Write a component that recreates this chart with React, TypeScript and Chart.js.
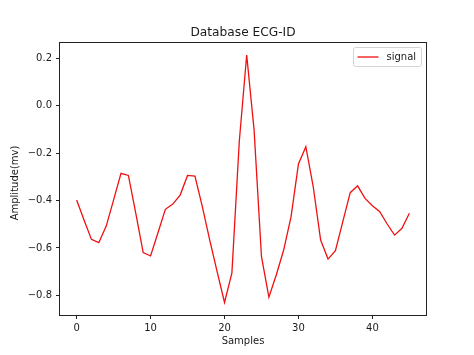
import React, { useEffect, useRef } from "react";
import { Chart, registerables } from "chart.js";

Chart.register(...registerables);

const chartTitle = "Database ECG-ID";
const xAxisLabel = "Samples";
const yAxisLabel = "Amplitude(mv)";
const seriesName = "signal";

const samples = [
  0, 1, 2, 3, 4, 5, 6, 7, 8, 9, 10, 11, 12, 13, 14, 15, 16, 17, 18, 19, 20, 21, 22,
  23, 24, 25, 26, 27, 28, 29, 30, 31, 32, 33, 34, 35, 36, 37, 38, 39, 40, 41, 42, 43,
  44, 45,
];

const amplitude = [
  -0.398, -0.482, -0.564, -0.578, -0.508, -0.397, -0.285, -0.294, -0.454, -0.62,
  -0.634, -0.536, -0.437, -0.415, -0.377, -0.294, -0.297, -0.426, -0.567, -0.7,
  -0.83, -0.705, -0.15, 0.214, -0.103, -0.637, -0.808, -0.714, -0.609, -0.468,
  -0.246, -0.173, -0.342, -0.567, -0.647, -0.612, -0.489, -0.367, -0.338, -0.391,
  -0.422, -0.447, -0.499, -0.546, -0.517, -0.454,
];

const xTicks = [0, 10, 20, 30, 40];
const xTickLabels = ["0", "10", "20", "30", "40"];
const yTicks = [-0.8, -0.6, -0.4, -0.2, 0, 0.2];
const yTickLabels = ["\u22120.8", "\u22120.6", "\u22120.4", "\u22120.2", "0.0", "0.2"];

const FONT = "'DejaVu Sans', sans-serif";
const LINE_COLOR = "#f01010";
const TEXT_COLOR = "#1a1a1a";

function labelFor(values: number[], labels: string[], v: number): string {
  let best = 0;
  for (let i = 0; i < values.length; i++) {
    if (Math.abs(values[i] - v) < Math.abs(values[best] - v)) best = i;
  }
  return labels[best];
}

const decorPlugin = {
  id: "decor",
  afterDraw(chart: any) {
    const { ctx, chartArea } = chart;
    const { left, right, top, bottom } = chartArea;
    const cx = (left + right) / 2;
    const cy = (top + bottom) / 2;
    ctx.save();

    // frame
    ctx.strokeStyle = "#222";
    ctx.lineWidth = 1;
    ctx.strokeRect(Math.round(left) - 0.5, Math.round(top) - 0.5, Math.round(right - left) + 1, Math.round(bottom - top) + 1);

    // title
    ctx.fillStyle = TEXT_COLOR;
    ctx.textAlign = "center";
    ctx.textBaseline = "middle";
    ctx.font = `12.2px ${FONT}`;
    ctx.fillText(chartTitle, cx, 32.5);

    // axis labels
    ctx.font = `10px ${FONT}`;
    ctx.fillText(xAxisLabel, cx, 341.5);
    ctx.save();
    ctx.translate(15, cy + 4);
    ctx.rotate(-Math.PI / 2);
    ctx.fillText(yAxisLabel, 0, 0);
    ctx.restore();

    // legend
    const lx = right - 72.5;
    const ly = top + 4.5;
    const lw = 68;
    const lh = 19;
    ctx.beginPath();
    if (ctx.roundRect) ctx.roundRect(lx, ly, lw, lh, 2);
    else ctx.rect(lx, ly, lw, lh);
    ctx.fillStyle = "rgba(255,255,255,0.8)";
    ctx.fill();
    ctx.strokeStyle = "#d4d4d4";
    ctx.lineWidth = 1;
    ctx.stroke();

    ctx.beginPath();
    ctx.moveTo(lx + 4, ly + 9.5);
    ctx.lineTo(lx + 25, ly + 9.5);
    ctx.strokeStyle = LINE_COLOR;
    ctx.lineWidth = 1.3;
    ctx.stroke();

    ctx.fillStyle = TEXT_COLOR;
    ctx.textAlign = "left";
    ctx.textBaseline = "middle";
    ctx.font = `10px ${FONT}`;
    ctx.fillText(seriesName, lx + 33, ly + 9.5);

    ctx.restore();
  },
};

export default function App() {
  const canvasRef = useRef<HTMLCanvasElement | null>(null);

  useEffect(() => {
    const canvas = canvasRef.current;
    if (!canvas) return;
    const chart = new Chart(canvas, {
      type: "line",
      data: {
        datasets: [
          {
            label: seriesName,
            data: samples.map((s, i) => ({ x: s, y: amplitude[i] })),
            borderColor: LINE_COLOR,
            backgroundColor: LINE_COLOR,
            borderWidth: 1.3,
            pointRadius: 0,
            tension: 0,
            fill: false,
          },
        ],
      },
      options: {
        animation: false,
        responsive: false,
        devicePixelRatio: 1,
        layout: { padding: { left: 0, right: 48, top: 43, bottom: 0 } },
        plugins: {
          legend: { display: false },
          title: { display: false },
          tooltip: { enabled: false },
        },
        scales: {
          x: {
            type: "linear",
            bounds: "data",
            min: -2.25,
            max: 47.25,
            afterBuildTicks: (scale: any) => {
              scale.ticks = xTicks.map((v) => ({ value: v }));
            },
            afterFit: (scale: any) => {
              scale.height = 40;
            },
            ticks: {
              autoSkip: false,
              maxRotation: 0,
              padding: 3,
              color: TEXT_COLOR,
              font: { family: FONT, size: 10 },
              callback: (v: any) => labelFor(xTicks, xTickLabels, Number(v)),
            },
            grid: {
              display: true,
              drawOnChartArea: false,
              drawTicks: true,
              tickLength: 4,
              tickColor: "#222",
              tickWidth: 1,
            },
            border: { display: false },
          },
          y: {
            type: "linear",
            bounds: "data",
            min: -0.883,
            max: 0.2646,
            afterBuildTicks: (scale: any) => {
              scale.ticks = yTicks.map((v) => ({ value: v }));
            },
            afterFit: (scale: any) => {
              scale.width = 60;
            },
            ticks: {
              autoSkip: false,
              padding: 4,
              color: TEXT_COLOR,
              font: { family: FONT, size: 10 },
              callback: (v: any) => labelFor(yTicks, yTickLabels, Number(v)),
            },
            grid: {
              display: true,
              drawOnChartArea: false,
              drawTicks: true,
              tickLength: 4,
              tickColor: "#222",
              tickWidth: 1,
            },
            border: { display: false },
          },
        },
      } as any,
      plugins: [decorPlugin],
    });
    return () => chart.destroy();
  }, []);

  return (
    <div style={{ position: "absolute", left: 0, top: 0, width: 474, height: 355, background: "#fff" }}>
      <canvas ref={canvasRef} width={474} height={355} style={{ display: "block" }} />
    </div>
  );
}
